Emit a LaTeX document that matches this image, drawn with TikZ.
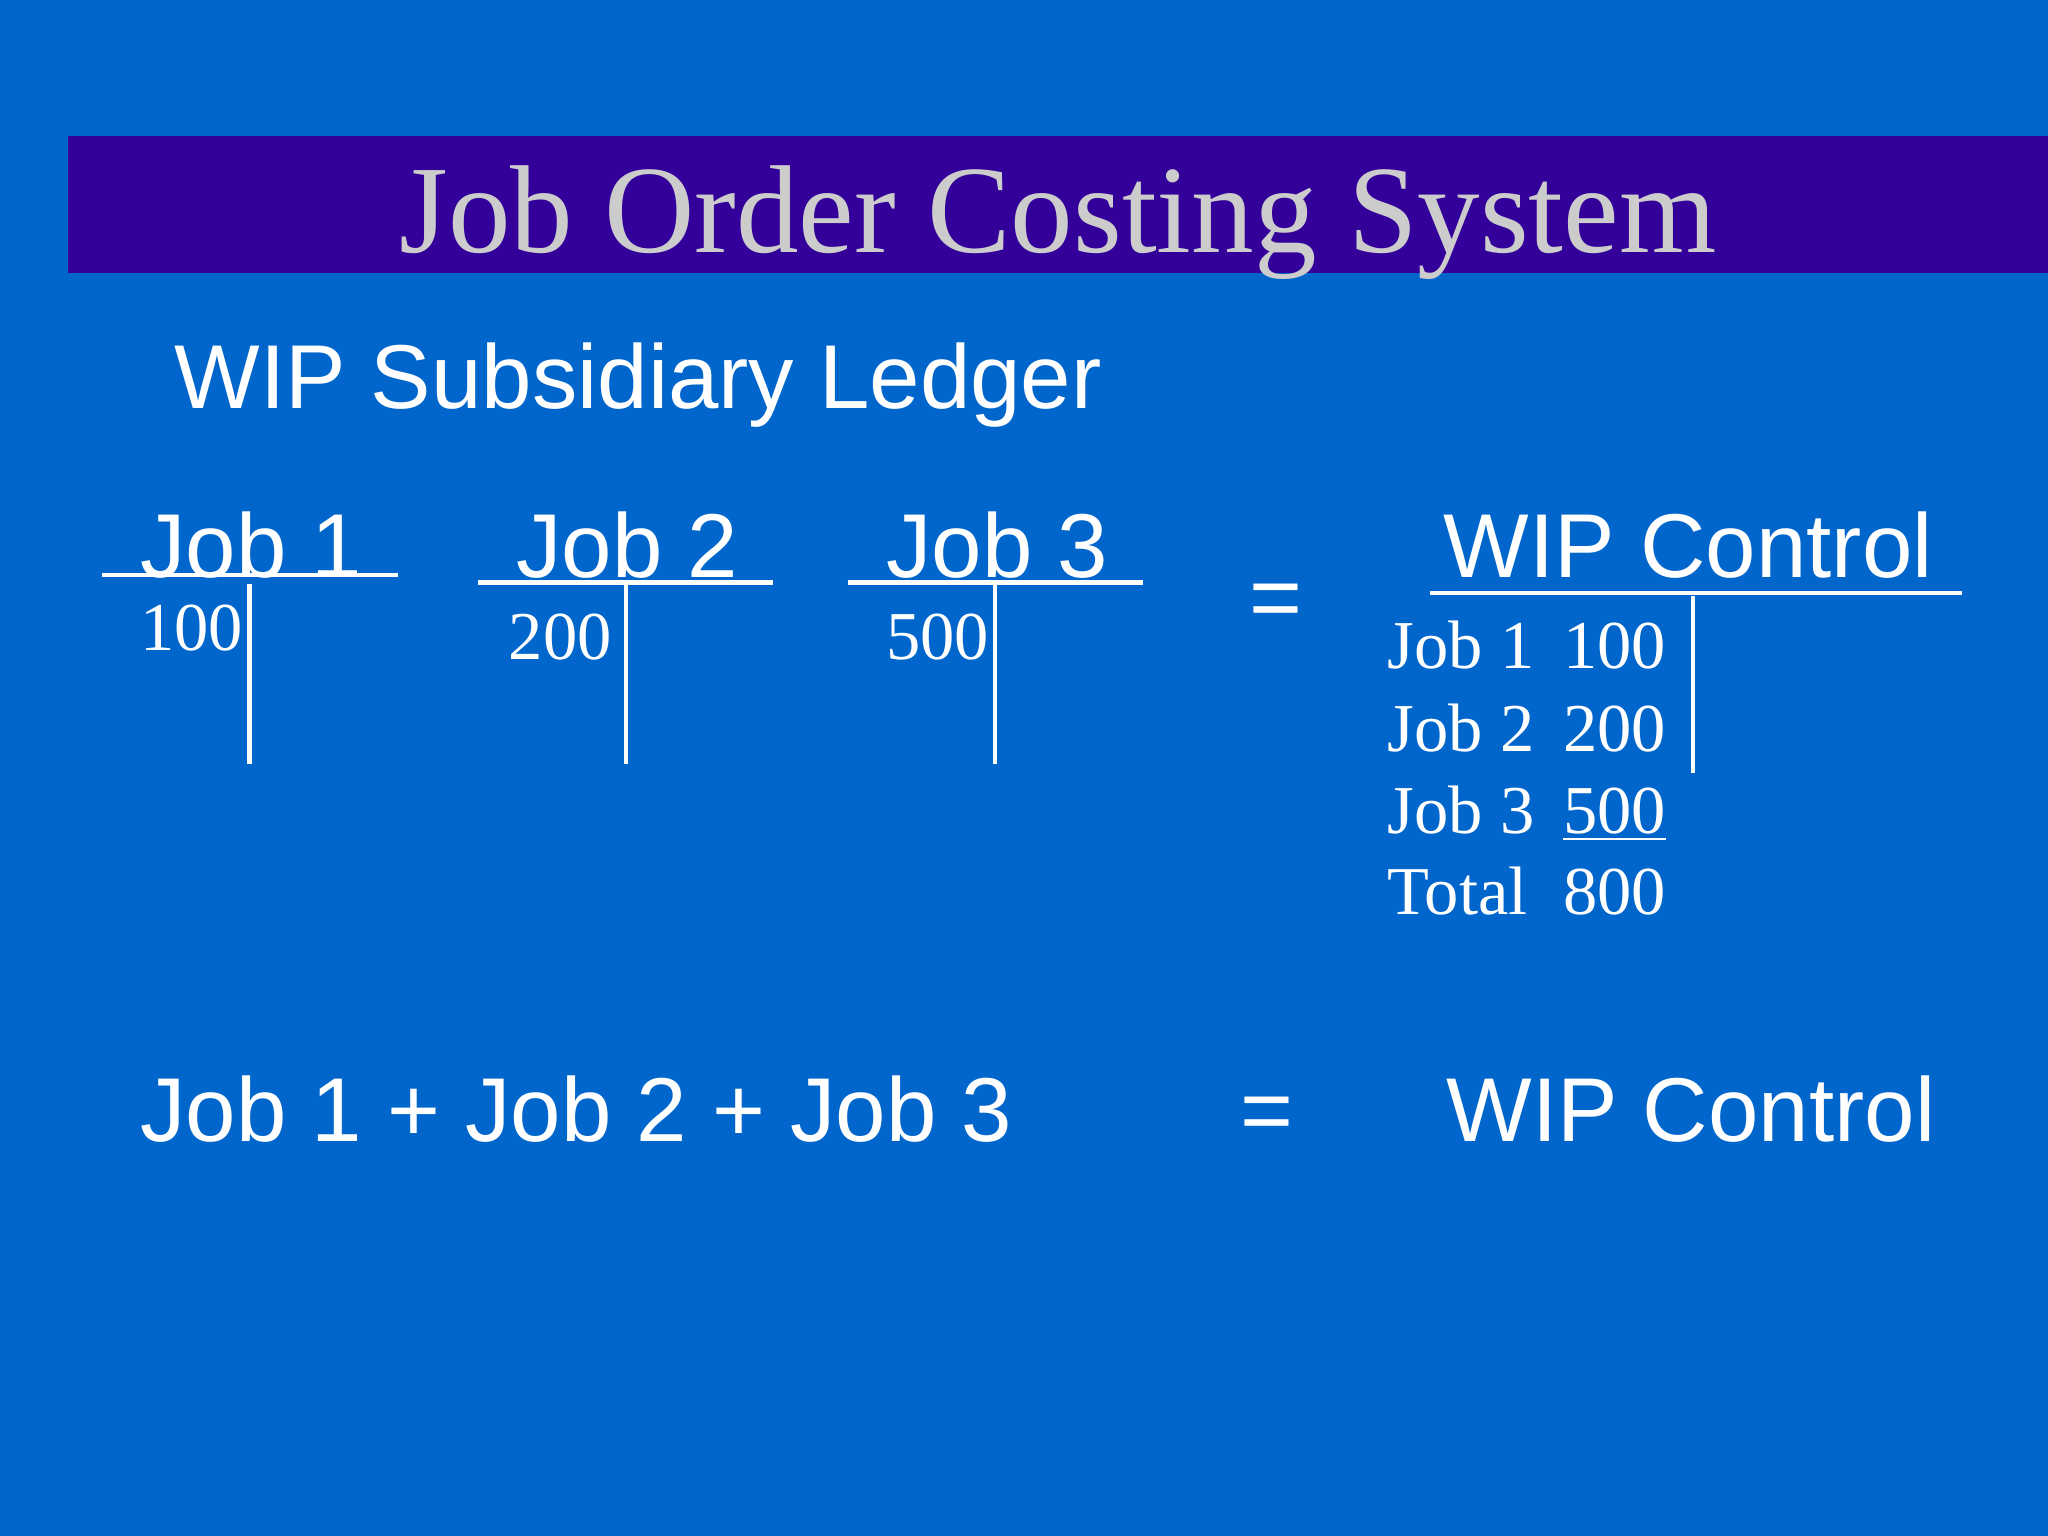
\documentclass[tikz,border=0pt]{standalone}
\usepackage{fontspec}
\setmainfont{Liberation Serif}
\setsansfont{Liberation Sans}
\definecolor{bg}{HTML}{0066CC}
\definecolor{bar}{HTML}{330099}
\definecolor{tgray}{HTML}{CCCCCC}
\begin{document}
\begin{tikzpicture}[x=0.01306cm,y=-0.01306cm,
  sans/.style={font=\sffamily\fontsize{25.8}{30}\selectfont,text=white,inner sep=0pt,anchor=base west},
  num/.style={font=\fontsize{19.5}{23}\selectfont,text=white,inner sep=0pt,anchor=base west},
  rule/.style={white,line width=1.2pt}]
\fill[bg] (0,0) rectangle (1568,1176);
\useasboundingbox (0,0) rectangle (1568,1176);
\fill[bar] (52,104) rectangle (1568,209);
\node[font=\fontsize{35.6}{40}\selectfont,text=tgray,inner sep=0pt,anchor=base] (title) at (810,193) {Job Order Costing System};
\node[sans] (sub) at (133,313) {WIP Subsidiary Ledger};
% T accounts
\node[sans] (j1) at (107,442) {Job 1};
\coordinate (j1a) at (78,440); \coordinate (j1b) at (305,440);
\coordinate (j1c) at (191,447); \coordinate (j1d) at (191,585);
\draw[rule] (j1a) -- (j1b); \draw[rule] (j1c) -- (j1d);
\node[num] (n1) at (107,498) {100};
\node[sans] (j2) at (395,442) {Job 2};
\coordinate (j2a) at (366,446); \coordinate (j2b) at (592,446);
\coordinate (j2c) at (479,447); \coordinate (j2d) at (479,585);
\draw[rule] (j2a) -- (j2b); \draw[rule] (j2c) -- (j2d);
\node[num] (n2) at (389,505) {200};
\node[sans] (j3) at (678,442) {Job 3};
\coordinate (j3a) at (649,446); \coordinate (j3b) at (875,446);
\coordinate (j3c) at (762,447); \coordinate (j3d) at (762,585);
\draw[rule] (j3a) -- (j3b); \draw[rule] (j3c) -- (j3d);
\node[num] (n3) at (678,505) {500};
\node[sans,anchor=base] (eq1) at (977,481) {=};
\node[sans] (wc) at (1105,442) {WIP Control};
\coordinate (wca) at (1095,454); \coordinate (wcb) at (1502,454);
\coordinate (wcc) at (1296,456); \coordinate (wcd) at (1296,592);
\draw[rule] (wca) -- (wcb); \draw[rule] (wcc) -- (wcd);
\node[num] (r1) at (1062,512) {Job 1};
\node[num,anchor=base east] (v1) at (1276,512) {100};
\node[num] (r2) at (1062,575) {Job 2};
\node[num,anchor=base east] (v2) at (1276,575) {200};
\node[num] (r3) at (1062,638) {Job 3};
\node[num,anchor=base east] (v3) at (1276,638) {\underline{500}};
\node[num] (r4) at (1062,700) {Total};
\node[num,anchor=base east] (v4) at (1276,700) {800};
% bottom
\node[sans] (b1) at (107,874) {Job 1 + Job 2 + Job 3};
\node[sans,anchor=base] (eq2) at (970,874) {=};
\node[sans] (b2) at (1107,874) {WIP Control};
\end{tikzpicture}
\end{document}
